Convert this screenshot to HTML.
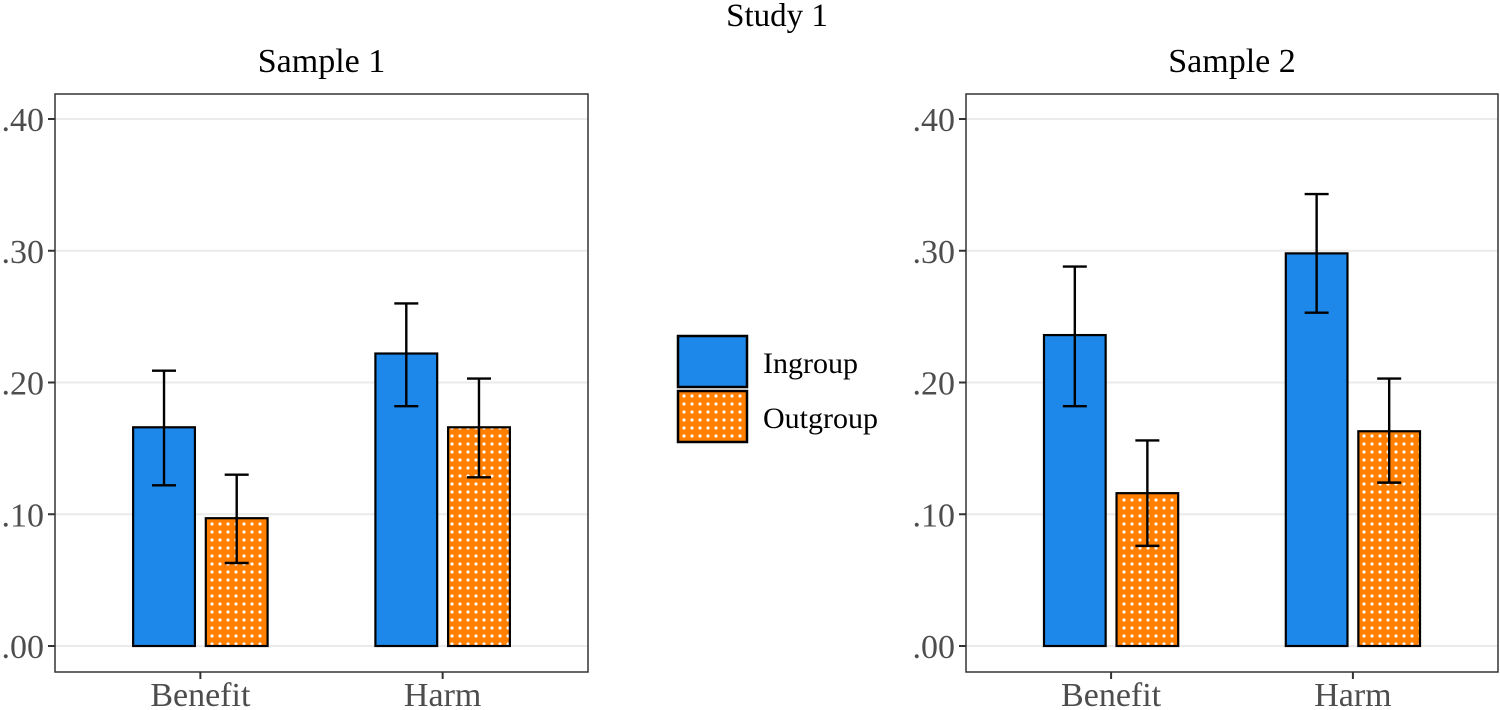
<!DOCTYPE html>
<html><head><meta charset="utf-8"><style>
body{margin:0;background:#fff}
svg{display:block;font-family:"Liberation Serif",serif}
</style></head><body>
<svg id="chart" width="1500" height="710" viewBox="0 0 1500 710">
<defs>
<pattern id="dots" width="8" height="8" patternUnits="userSpaceOnUse">
<rect width="8" height="8" fill="#ff8000"/><circle cx="4" cy="4" r="1.6" fill="#fff"/>
</pattern>
</defs>
<text x="777" y="26" font-size="33" text-anchor="middle">Study 1</text>
<g>
<rect x="678" y="336" width="69" height="51" fill="#1e88ea" stroke="#000" stroke-width="2.5"/>
<rect x="678" y="391" width="69" height="51" fill="url(#dots)" stroke="#000" stroke-width="2.5"/>
<text x="763" y="373" font-size="30">Ingroup</text>
<text x="763" y="428" font-size="30">Outgroup</text>
</g>
</svg>
<script>
const categories = ["Benefit", "Harm"];
const groups = ["Ingroup", "Outgroup"];
const panelTitles = ["Sample 1", "Sample 2"];
const s1Ingroup = [0.166, 0.222];
const s1Outgroup = [0.097, 0.166];
const s1IngroupLo = [0.122, 0.182];
const s1IngroupHi = [0.209, 0.260];
const s1OutgroupLo = [0.063, 0.128];
const s1OutgroupHi = [0.130, 0.203];
const s2Ingroup = [0.236, 0.298];
const s2Outgroup = [0.116, 0.163];
const s2IngroupLo = [0.182, 0.253];
const s2IngroupHi = [0.288, 0.343];
const s2OutgroupLo = [0.076, 0.124];
const s2OutgroupHi = [0.156, 0.203];
const yTicks = [0, 0.1, 0.2, 0.3, 0.4];
const yTickLabels = [".00", ".10", ".20", ".30", ".40"];

const NS = "http://www.w3.org/2000/svg";
const svg = document.getElementById("chart");
function mk(tag, attrs, parent){const e=document.createElementNS(NS,tag);for(const k in attrs)e.setAttribute(k,attrs[k]);(parent||svg).appendChild(e);return e;}
const panels = [
 {x0:55,x1:588,vals:[s1Ingroup,s1Outgroup],lo:[s1IngroupLo,s1OutgroupLo],hi:[s1IngroupHi,s1OutgroupHi]},
 {x0:966,x1:1498,vals:[s2Ingroup,s2Outgroup],lo:[s2IngroupLo,s2OutgroupLo],hi:[s2IngroupHi,s2OutgroupHi]}
];
const yTop=94,yBot=672;
function y(v){return 646 - v*1317.5;}
panels.forEach((p,pi)=>{
 const g=mk("g",{});
 
 
 const unit=(p.x1-p.x0)/2.2;
 const xc=i=>p.x0+(i+1-0.4)*unit;
 const t=mk("text",{x:(p.x0+p.x1)/2,y:72,"font-size":34,"text-anchor":"middle"},g);
 t.textContent=panelTitles[pi];
 
 
 yTicks.forEach((v,i)=>{
  const gl=mk("line",{x1:p.x0,x2:p.x1,y1:y(v),y2:y(v),stroke:"#ebebeb","stroke-width":2},g);
  
  
  mk("line",{x1:p.x0-7,x2:p.x0,y1:y(v),y2:y(v),stroke:"#333","stroke-width":2},g);
  const tl=mk("text",{x:p.x0-11,y:y(v)+12,"font-size":34,"text-anchor":"end",fill:"#4d4d4d"},g);
  tl.textContent=yTickLabels[i];
  
  
 });
 categories.forEach((c,ci)=>{
  const cx=xc(ci);
  mk("line",{x1:cx,x2:cx,y1:yBot,y2:yBot+7,stroke:"#333","stroke-width":2},g);
  const xl=mk("text",{x:cx,y:706,"font-size":34,"text-anchor":"middle",fill:"#4d4d4d"},g);
  xl.textContent=c;
  
  
  groups.forEach((gr,gi)=>{
   const bc=cx+(gi===0?-0.15:0.15)*unit, bw=0.255*unit, v=p.vals[gi][ci];
   const b=mk("rect",{x:bc-bw/2,y:y(v),width:bw,height:y(0)-y(v),fill:gi===0?"#1e88ea":"url(#dots)",stroke:"#000","stroke-width":2.2},g);
   
   
   const lo=y(p.lo[gi][ci]),hi=y(p.hi[gi][ci]);
   const e=mk("path",{d:`M${bc-12},${hi}H${bc+12}M${bc},${hi}V${lo}M${bc-12},${lo}H${bc+12}`,stroke:"#000","stroke-width":2.4,fill:"none"},g);
   
   
  });
 });
 const fr=mk("rect",{x:p.x0,y:yTop,width:p.x1-p.x0,height:yBot-yTop,fill:"none",stroke:"#333","stroke-width":1.5},g);
 
 
});
</script>
</body></html>
